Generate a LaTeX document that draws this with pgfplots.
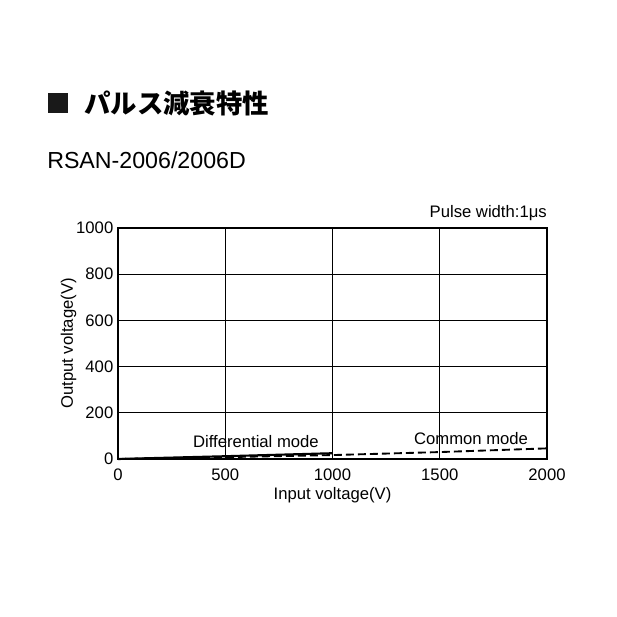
\documentclass[border=0pt]{standalone}
\usepackage{fontspec}
\setmainfont{Liberation Sans}
\newfontfamily\cjk{Noto Sans CJK JP}
\usepackage{pgfplots}
\pgfplotsset{compat=1.18}
\begin{document}
\begin{tikzpicture}
% page backdrop: 617 x 617 px, 1px = 0.75pt
\fill[white] (0pt,0pt) rectangle (462.75pt,462.75pt);
\fill[black!90] (36pt,378pt) rectangle (51pt,393pt);
\node[anchor=west,inner sep=0pt,font=\cjk\bfseries\fontsize{19.8}{22}\selectfont] at (63pt,385.5pt) {パルス減衰特性};
\node[anchor=west,inner sep=0pt,font=\fontsize{17.4}{20}\selectfont] at (35.25pt,342.75pt) {RSAN-2006/2006D};
\begin{axis}[
	at={(88.5pt,118.5pt)}, anchor=south west,
	scale only axis,
	width=321.75pt, height=173.25pt,
	xmin=0, xmax=2000, ymin=0, ymax=1000,
	xtick={0,500,1000,1500,2000},
	ytick={0,200,400,600,800,1000},
	grid=major,
	major grid style={black, line width=0.8pt},
	axis line style={black, line width=0.8pt},
	major tick length=0pt,
	tick label style={font=\fontsize{12.5}{14}\selectfont},
	/pgf/number format/assume math mode=true,
	/pgf/number format/1000 sep={},
	xticklabel style={yshift=-4pt},
	yticklabel style={xshift=0pt},
	xlabel={Input voltage(V)},
	ylabel={Output voltage(V)},
	label style={font=\fontsize{12.5}{14}\selectfont},
	xlabel style={yshift=2pt},
	ylabel style={yshift=-7pt},
	clip=false,
]
\addplot[black, line width=1.6pt] coordinates {
(0, 0)
(500, 12)
(1000, 25)
};
\addplot[black, line width=1.4pt, dash pattern=on 6pt off 3pt] coordinates {
(0, 0)
(500, 8)
(1000, 17)
(1500, 30)
(2000, 46)
};
\node[font=\fontsize{12.5}{14}\selectfont] at (axis cs:643,74) {Differential mode};
\node[font=\fontsize{12.5}{14}\selectfont] at (axis cs:1646,87) {Common mode};
\node[anchor=south east,inner sep=0pt,font=\fontsize{12.5}{14}\selectfont] at (axis cs:2000,1030) {Pulse width:1μs};
\end{axis}
\end{tikzpicture}
\end{document}
